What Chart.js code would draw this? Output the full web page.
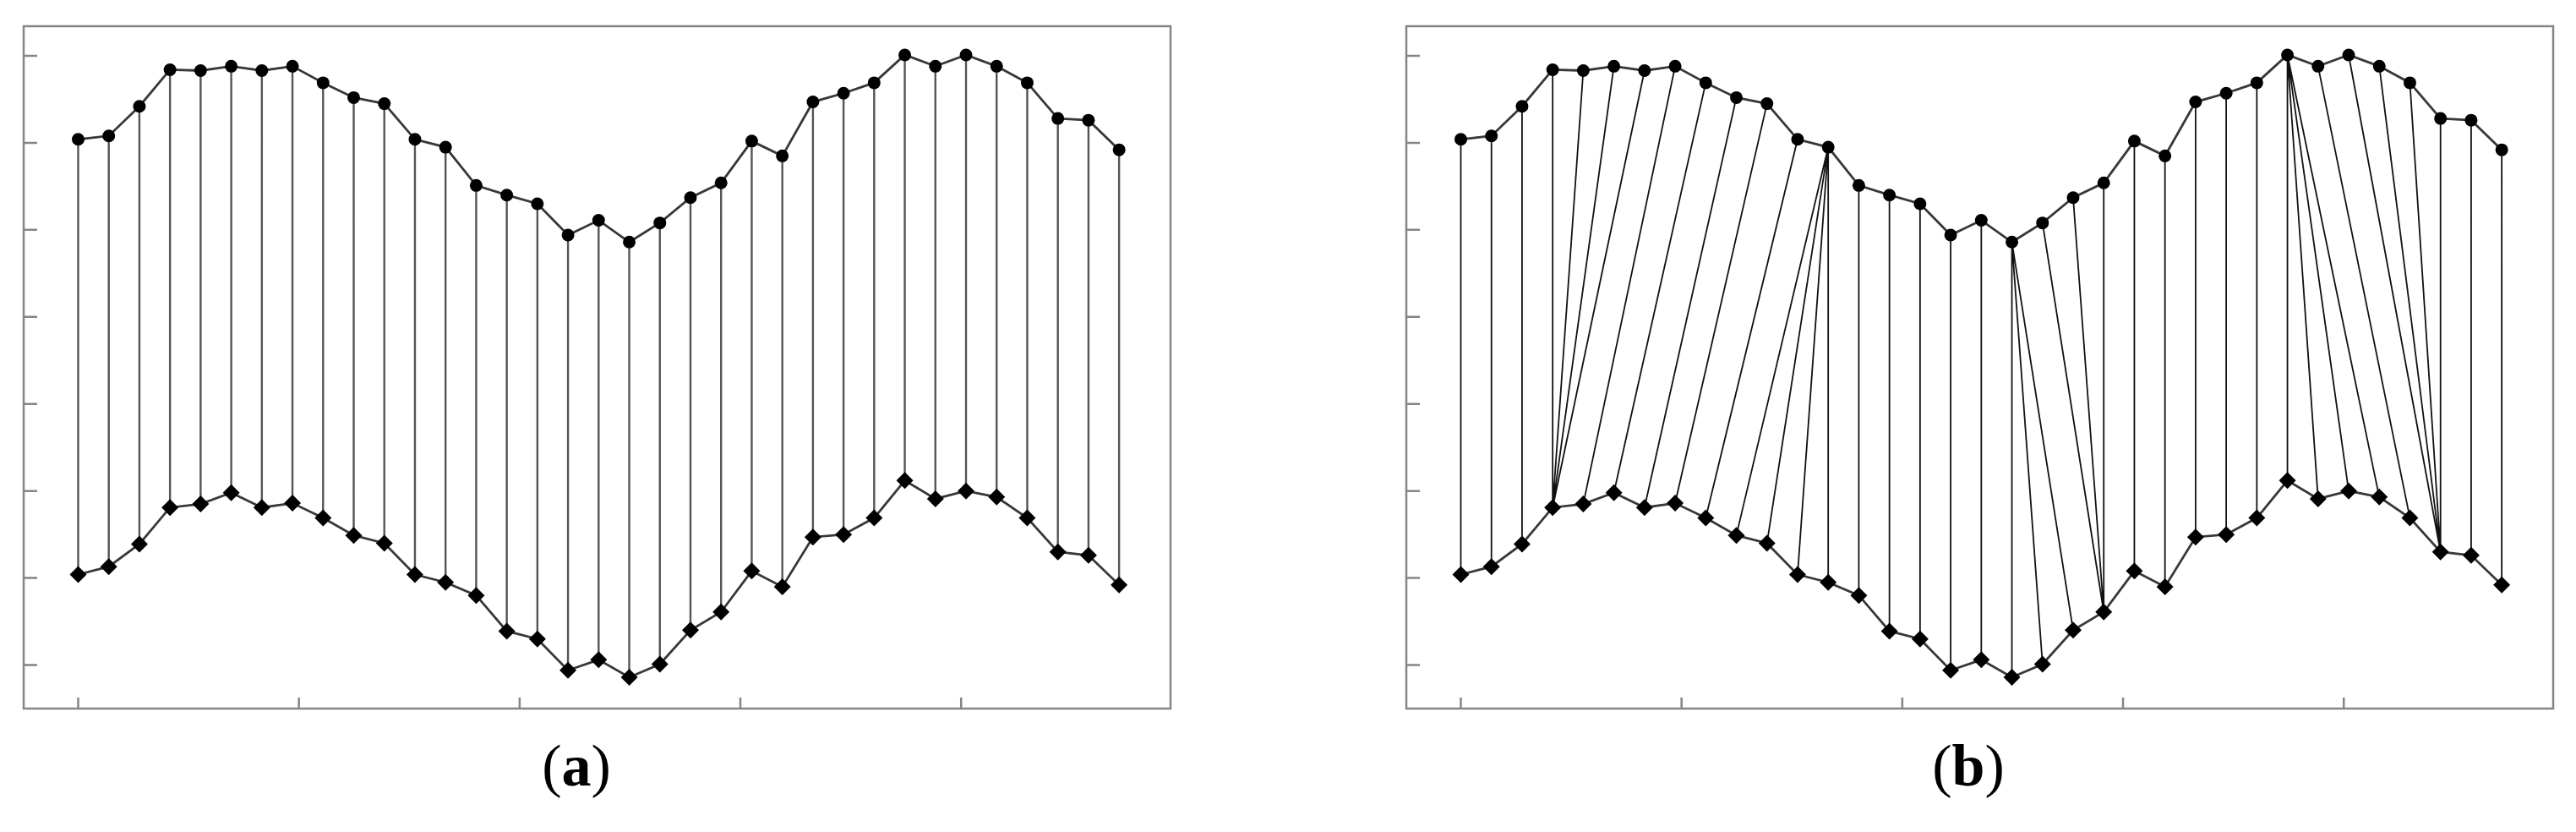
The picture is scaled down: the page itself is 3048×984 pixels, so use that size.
<!DOCTYPE html>
<html>
<head>
<meta charset="utf-8">
<script src="https://cdn.jsdelivr.net/npm/chart.js@4.4.1/dist/chart.umd.min.js"></script>
<style>
  html, body { margin: 0; padding: 0; background: #fff; }
  body { width: 3048px; height: 984px; position: relative; overflow: hidden; }
  .panel { position: absolute; top: 21px; width: 1377px; height: 827px; }
  .caption { position: absolute; top: 866px; width: 200px; text-align: center;
             font-family: 'Liberation Serif', 'DejaVu Serif', serif; font-size: 70px; color: #000; }
</style>
</head>
<body>
<div class="panel" style="left:18px"><canvas id="chartA"></canvas></div>
<div class="panel" style="left:1654px"><canvas id="chartB"></canvas></div>
<div class="caption" style="left:582px">(<b>a</b>)</div>
<div class="caption" style="left:2229px">(<b>b</b>)</div>
<script>
// two series (in y-tick units), sampled at index 0..34
const upperSeries = [6.04, 6.08, 6.42, 6.84, 6.83, 6.88, 6.83, 6.88, 6.69, 6.52, 6.45, 6.04, 5.95, 5.51, 5.40, 5.30, 4.94, 5.11,
                     4.86, 5.08, 5.37, 5.54, 6.02, 5.85, 6.47, 6.57, 6.69, 7.01, 6.88, 7.01, 6.88, 6.69, 6.28, 6.26, 5.92];
const lowerSeries = [1.04, 1.13, 1.39, 1.81, 1.85, 1.98, 1.81, 1.86, 1.69, 1.49, 1.40, 1.04, 0.95, 0.80, 0.39, 0.30, -0.06, 0.06,
                     -0.14, 0.01, 0.40, 0.61, 1.08, 0.90, 1.47, 1.50, 1.69, 2.12, 1.91, 2.00, 1.93, 1.69, 1.30, 1.26, 0.92];

// (b) warping path: [upper index, lower index]
const warpPath = [[0,0],[1,1],[2,2],[3,3],[4,3],[5,3],[6,3],[7,4],[8,5],[9,6],[10,7],[11,8],[12,9],[12,10],[12,11],[12,12],
                  [13,13],[14,14],[15,15],[16,16],[17,17],[18,18],[18,19],[18,20],[19,21],[20,21],[21,21],[22,22],[23,23],
                  [24,24],[25,25],[26,26],[27,27],[27,28],[27,29],[27,30],[28,31],[29,32],[30,32],[31,32],[32,32],[33,33],[34,34]];

// unlabeled axis ticks
const xTickPositions = [0, 7.21, 14.42, 21.63, 28.84];
const yTickPositions = [0, 1, 2, 3, 4, 5, 6, 7];

// (a) one-to-one pairs
const directPath = upperSeries.map((v, i) => [i, i]);

function connectorData(pairs) {
    const pts = [];
    pairs.forEach(function(p) {
        pts.push({x: p[0], y: upperSeries[p[0]]});
        pts.push({x: p[1], y: lowerSeries[p[1]]});
        pts.push({x: p[1], y: null});
    });
    return pts;
}

const frameTicks = {
    id: 'frameTicks',
    afterDraw(chart) {
        const ctx = chart.ctx, a = chart.chartArea;
        const xs = chart.scales.x, ys = chart.scales.y;
        ctx.save();
        ctx.strokeStyle = '#858585';
        ctx.lineWidth = 2.5;
        ctx.strokeRect(a.left, a.top, a.right - a.left, a.bottom - a.top);
        ctx.beginPath();
        yTickPositions.forEach(function(v) {
            const y = ys.getPixelForValue(v);
            ctx.moveTo(a.left, y);
            ctx.lineTo(a.left + 16, y);
        });
        xTickPositions.forEach(function(v) {
            const x = xs.getPixelForValue(v);
            ctx.moveTo(x, a.bottom);
            ctx.lineTo(x, a.bottom - 13);
        });
        ctx.stroke();
        ctx.restore();
    }
};

function makeChart(id, pairs, linkColor, linkWidth) {
    return new Chart(document.getElementById(id).getContext('2d'), {
        type: 'line',
        data: {
            datasets: [{
                data: upperSeries.map((v, i) => ({x: i, y: v})),
                borderColor: '#383838',
                borderWidth: 2.8,
                pointStyle: 'circle',
                pointRadius: 7.5,
                pointBackgroundColor: '#000',
                pointBorderColor: '#000',
                pointBorderWidth: 0,
                tension: 0,
                order: 0
            },
            {
                data: lowerSeries.map((v, i) => ({x: i, y: v})),
                borderColor: '#383838',
                borderWidth: 2.8,
                pointStyle: 'rectRot',
                pointRadius: 10,
                pointBackgroundColor: '#000',
                pointBorderColor: '#000',
                pointBorderWidth: 0,
                tension: 0,
                order: 1
            },
            {
                data: connectorData(pairs),
                borderColor: linkColor,
                borderWidth: linkWidth,
                pointRadius: 0,
                spanGaps: false,
                tension: 0,
                order: 2
            }]
        },
        options: {
            responsive: true,
            maintainAspectRatio: false,
            animation: false,
            events: [],
            layout: { padding: 10 },
            scales: {
                x: { type: 'linear', min: -1.78, max: 35.68, display: false },
                y: { type: 'linear', min: -0.5, max: 7.34, display: false }
            },
            plugins: {
                legend: { display: false },
                tooltip: { enabled: false }
            }
        },
        plugins: [frameTicks]
    });
}

document.addEventListener('DOMContentLoaded', function() {
    makeChart('chartA', directPath, '#555', 2.4);
    makeChart('chartB', warpPath, '#111', 1.8);
});
</script>
</body>
</html>
